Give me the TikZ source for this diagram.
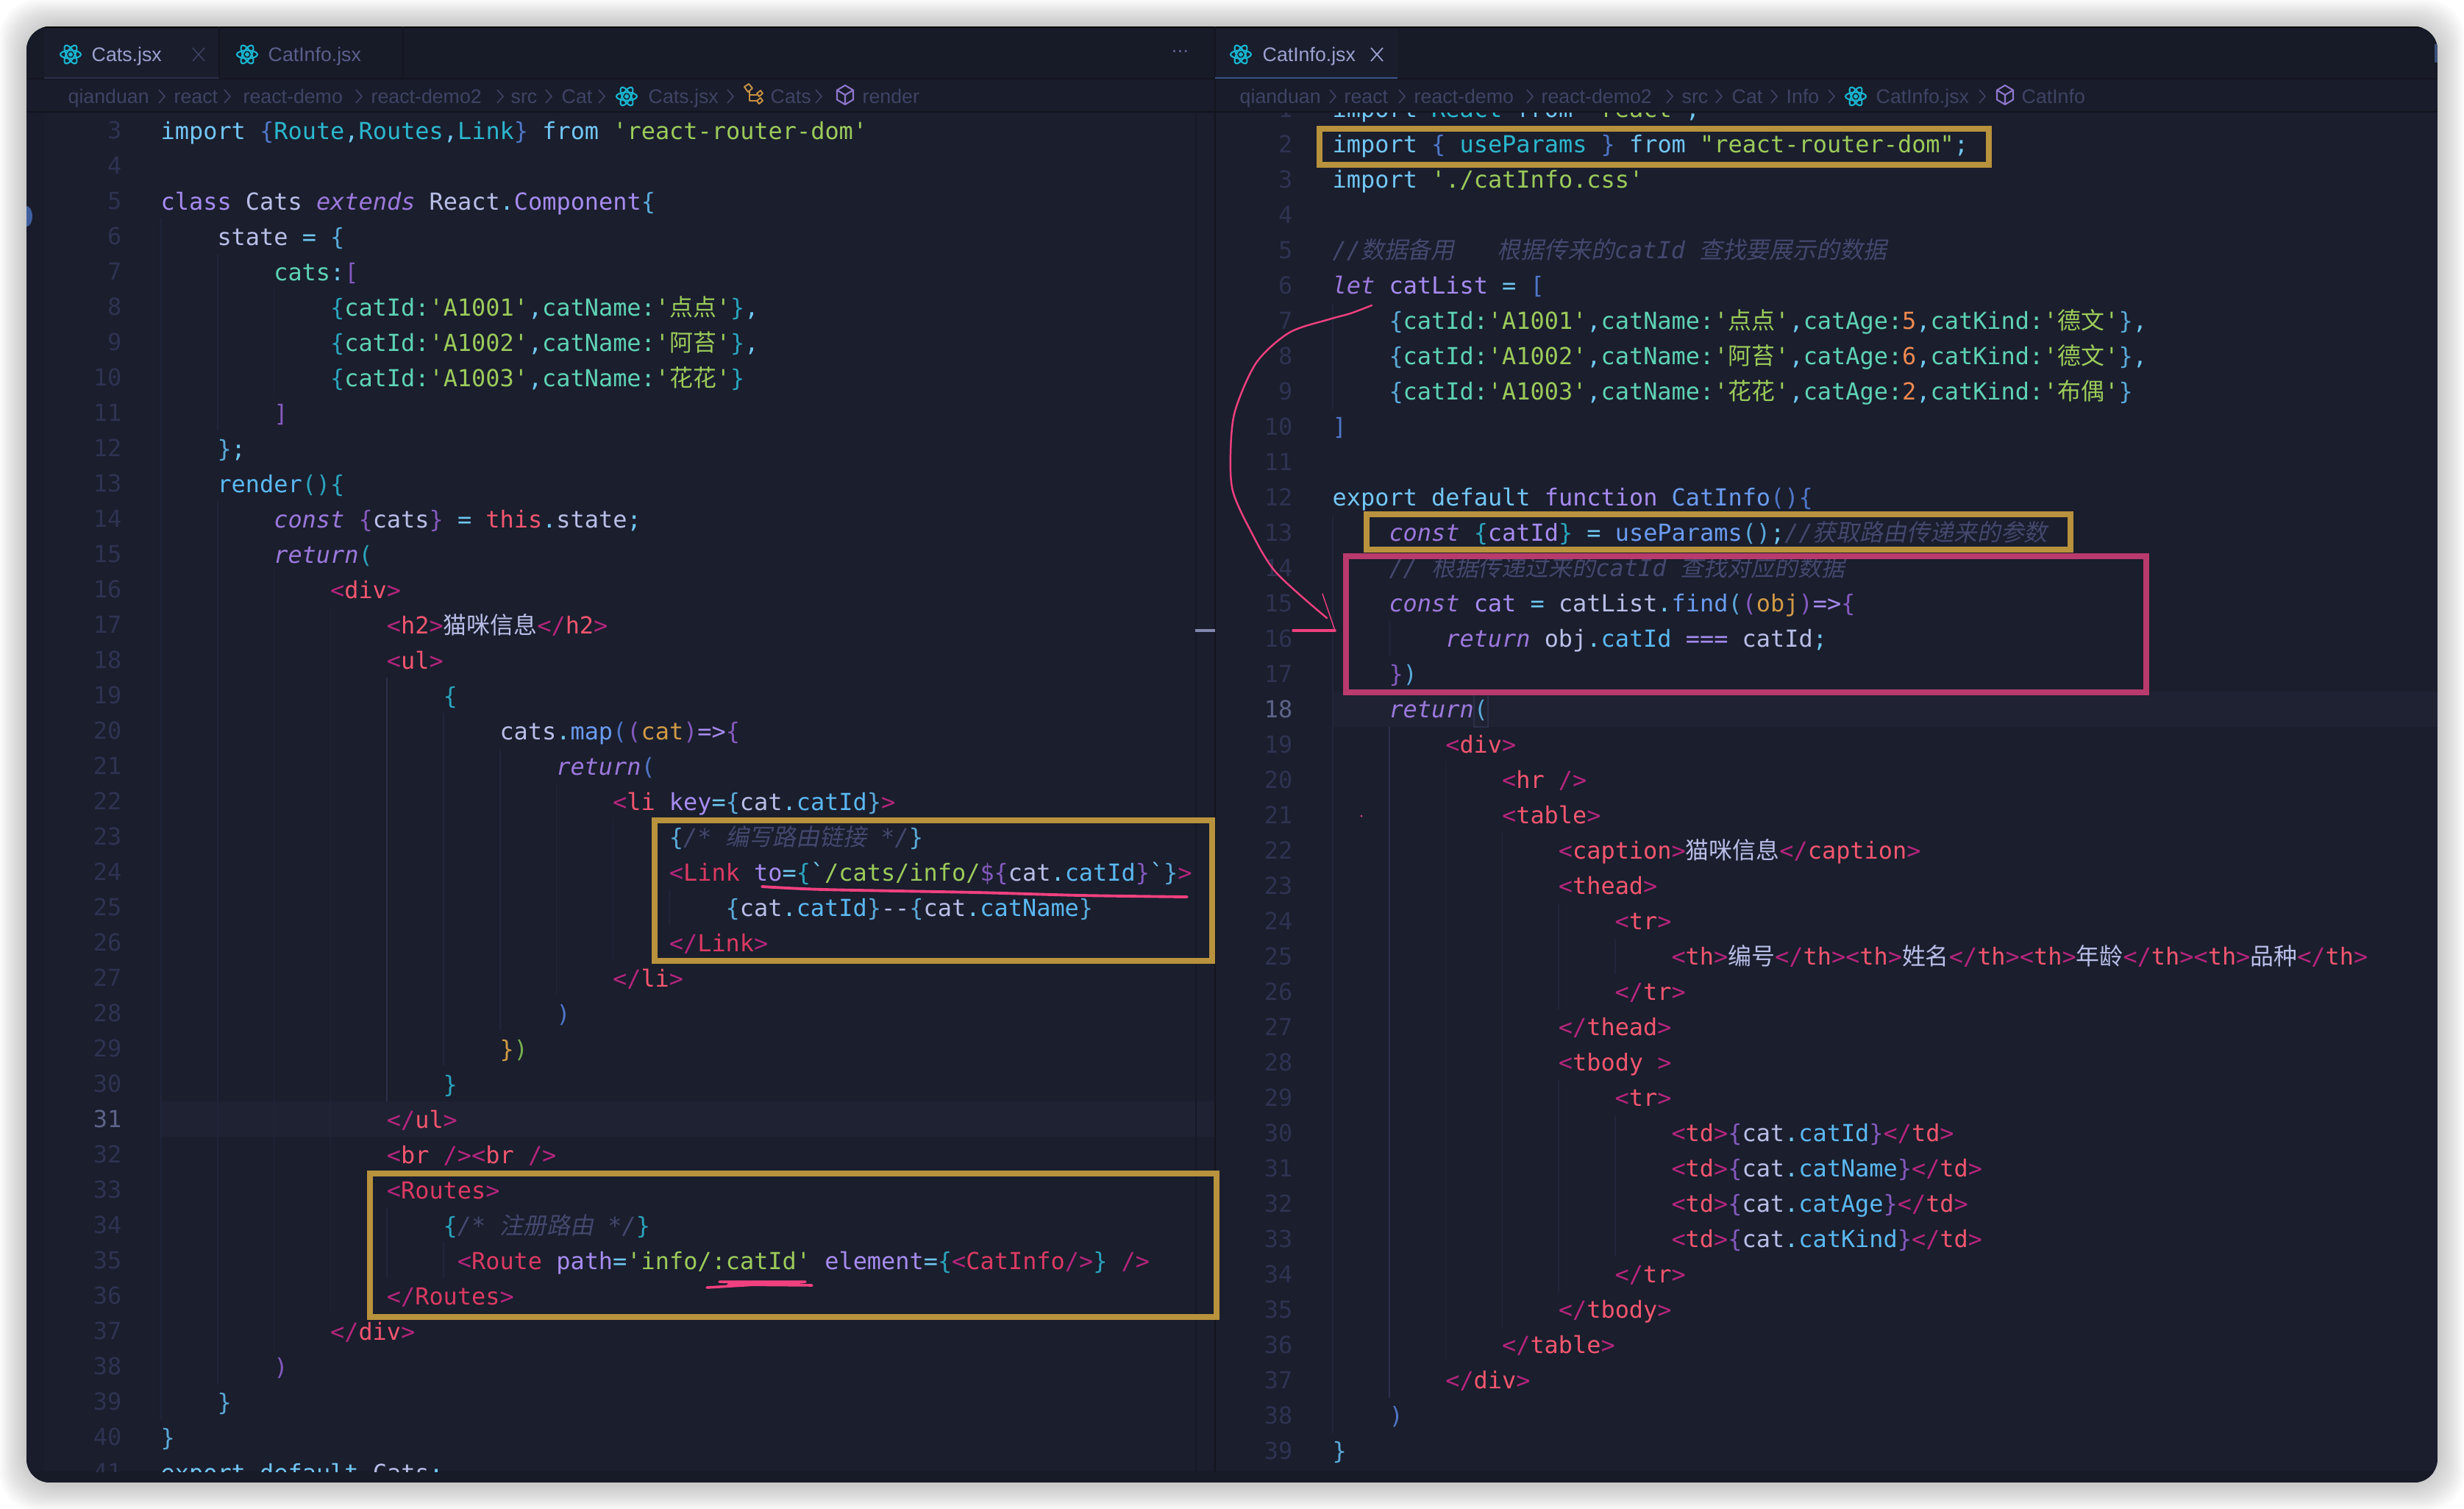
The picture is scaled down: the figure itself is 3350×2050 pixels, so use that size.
\documentclass[tikz,border=0pt]{standalone}
\usepackage{xcolor}
\usepackage{fontspec}
\usepackage{tikz}
\usetikzlibrary{calc}
\newfontfamily\codefont{DejaVu Sans Mono}
\newfontfamily\zhfont{Noto Sans CJK SC}
\newfontfamily\zhslant[FakeSlant=0.2]{Noto Sans CJK SC}
\newfontfamily\uifont{Liberation Sans}

\definecolor{cBg}{HTML}{1A1E2D}
\definecolor{cBar}{HTML}{171A27}
\definecolor{cCrumbBg}{HTML}{191C2A}
\definecolor{cCurLine}{HTML}{1F2233}
\definecolor{cEdge}{HTML}{13151F}
\definecolor{cGuide}{HTML}{21253A}
\definecolor{cGuideOn}{HTML}{2C3049}
\definecolor{cNum}{HTML}{2F3352}
\definecolor{cNumOn}{HTML}{5D6388}
\definecolor{cCrumb}{HTML}{3F4466}
\definecolor{cTabOn}{HTML}{9CA1CF}
\definecolor{cTabOff}{HTML}{5A5F8C}
\definecolor{cReact}{HTML}{19B5D0}
\definecolor{cGold}{HTML}{B8923C}
\definecolor{cRose}{HTML}{B93A6C}
\definecolor{cInk}{HTML}{F0407F}
\definecolor{cTxt}{HTML}{B9BEE8}
\definecolor{cBlue}{HTML}{72C6F5}
\definecolor{cPurp}{HTML}{A78BF0}
\definecolor{cItal}{HTML}{9C78DC}
\definecolor{cStr}{HTML}{9CCB5A}
\definecolor{cProp}{HTML}{5ED3B5}
\definecolor{cTeal}{HTML}{2BB7CE}
\definecolor{cFld}{HTML}{5BB8F2}
\definecolor{cFun}{HTML}{6A9BF0}
\definecolor{cTag}{HTML}{F4566F}
\definecolor{cAng}{HTML}{B4257C}
\definecolor{cCmp}{HTML}{DB3A62}
\definecolor{cCmt}{HTML}{44486E}
\definecolor{cNo}{HTML}{F0894F}
\definecolor{cPnc}{HTML}{6FC8F0}
\definecolor{cBrB}{HTML}{4F76C7}
\definecolor{cBrT}{HTML}{2AA3BC}
\definecolor{cBrP}{HTML}{8459BD}
\definecolor{cBrO}{HTML}{D19A45}
\definecolor{cBrG}{HTML}{78B050}
\definecolor{cBrS}{HTML}{5AA9D8}

% token colours
\newcommand{\kwb}[1]{\textcolor{cBlue}{#1}}
\newcommand{\kwp}[1]{\textcolor{cPurp}{#1}}
\newcommand{\kwi}[1]{\textcolor{cItal}{\itshape #1}}
\newcommand{\strg}[1]{\textcolor{cStr}{#1}}
\newcommand{\prp}[1]{\textcolor{cProp}{#1}}
\newcommand{\tl}[1]{\textcolor{cTeal}{#1}}
\newcommand{\fld}[1]{\textcolor{cFld}{#1}}
\newcommand{\fnc}[1]{\textcolor{cFun}{#1}}
\newcommand{\numb}[1]{\textcolor{cNo}{#1}}
\newcommand{\pnc}[1]{\textcolor{cPnc}{#1}}
\newcommand{\brb}[1]{\textcolor{cBrB}{#1}}
\newcommand{\brt}[1]{\textcolor{cBrT}{#1}}
\newcommand{\brp}[1]{\textcolor{cBrP}{#1}}
\newcommand{\bro}[1]{\textcolor{cBrO}{#1}}
\newcommand{\brg}[1]{\textcolor{cBrG}{#1}}
\newcommand{\brs}[1]{\textcolor{cBrS}{#1}}
\newcommand{\zh}[1]{{\zhfont\fontsize{9.073}{11}\selectfont #1}}
\newcommand{\cmnt}[1]{\textcolor{cCmt}{\itshape #1}}
\newcommand{\zhc}[1]{\textcolor{cCmt}{\zhslant\fontsize{9.073}{11}\selectfont #1}}
\newcommand{\tgo}[1]{\textcolor{cAng}{<}\textcolor{cTag}{#1}\textcolor{cAng}{>}}
\newcommand{\tgc}[1]{\textcolor{cAng}{</}\textcolor{cTag}{#1}\textcolor{cAng}{>}}
\newcommand{\cpo}[1]{\textcolor{cAng}{<}\textcolor{cCmp}{#1}}
\newcommand{\cpc}[1]{\textcolor{cAng}{</}\textcolor{cCmp}{#1}\textcolor{cAng}{>}}
\newcommand{\ag}[1]{\textcolor{cAng}{#1}}
\newcommand{\tn}[1]{\textcolor{cTag}{#1}}
\newcommand{\catrow}[4]{\brs{\{}\prp{catId:}\strg{'#1'}\pnc{,}\prp{catName:}\strg{'\zh{#2}'}\pnc{,}\prp{catAge:}\numb{#3}\pnc{,}\prp{catKind:}\strg{'\zh{#4}'}\brs{\}}\pnc{,}}
\newcommand{\catshort}[2]{\brt{\{}\prp{catId:}\strg{'#1'}\pnc{,}\prp{catName:}\strg{'\zh{#2}'}\brt{\}}\pnc{,}}
\newcommand{\tdrow}[1]{\tgo{td}\brp{\{}cat\pnc{.}\fld{#1}\brp{\}}\tgc{td}}
\newcommand{\thcell}[1]{\tgo{th}\zh{#1}\tgc{th}}

% one line of code: row, column, text
\newcommand{\lineL}[3]{\node[codeline] (codeL#1) at ({218+19.2*#2},{189+48*(#1-3)}) {#3};}
\newcommand{\lineR}[3]{\node[codeline] (codeR#1) at ({1811+19.2*#2},{207+48*(#1-2)}) {#3};}
\newcommand{\guideL}[4][cGuide]{\draw[guide,#1] ({219+19.2*#2},{153+48*(#3-3)}) -- ({219+19.2*#2},{201+48*(#4-3)});}
\newcommand{\guideR}[4][cGuide]{\draw[guide,#1] ({1812+19.2*#2},{172+48*(#3-2)}) -- ({1812+19.2*#2},{220+48*(#4-2)});}
\newcommand{\chev}[1]{\draw[chevron] ($(#1,131)+(-4,-9)$) -- ++(8,9) -- ++(-8,9);}

\tikzset{%
  codeline/.style = {anchor=base west, inner sep=0pt, text=cTxt, font=\codefont\fontsize{9.073}{11}\selectfont},
  lineno/.style = {anchor=base east, inner sep=0pt, text=cNum, font=\codefont\fontsize{9.073}{11}\selectfont},
  tabtext/.style = {anchor=base west, yshift=-0.09cm, inner sep=0pt, font=\uifont\fontsize{7.6}{9}\selectfont},
  crumb/.style = {tabtext, text=cCrumb},
  guide/.style = {line width=0.5pt},
  chevron/.style = {draw=cCrumb, line width=0.45pt},
  goldbox/.style = {draw=cGold, line width=2.2pt, minimum width=0pt},
  rosebox/.style = {draw=cRose, line width=2.2pt},
  inkline/.style = {draw=cInk, line cap=round, line join=round},
  reacticon/.pic = {
    \foreach \a in {0,60,120}
      \draw[cReact, line width=0.6pt, rotate=\a] (0,0) ellipse [x radius=14, y radius=5.5];
    \fill[cReact] (0,0) circle [radius=3];
  },
  cubeicon/.pic = {
    \draw[draw=cPurp!85!black, line width=0.6pt, line join=round] (0,-13) -- (11,-6.5) -- (11,6.5) -- (0,13) -- (-11,6.5) -- (-11,-6.5) -- cycle (-11,-6.5) -- (0,0) -- (11,-6.5) (0,0) -- (0,13);
  }
}

\begin{document}
\begin{tikzpicture}[x=0.01cm, y=-0.01cm]
  \useasboundingbox (0,0) rectangle (3350,2050);

  % Shadow and window
  \foreach \s in {3,6,...,36}
    \fill[black, opacity=0.018, rounded corners=0.5cm] ({36-\s},{36-\s}) rectangle ({3314+\s},{2014+\s+3});

  \begin{scope}
    \clip[rounded corners=0.32cm] (36,36) rectangle (3314,2015);
    \fill[cBg] (36,36) rectangle (3314,2015);
    \fill[cBar] (36,36) rectangle (3314,107);
    \fill[cCrumbBg] (36,108) rectangle (3314,152);
    \fill[cCrumbBg] (36,152) rectangle (60,2015);
    \fill[cBg!80!cBar] (60,36) rectangle (298,107);
    \fill[cBg!80!cBar] (1652,36) rectangle (1900,107);
    \fill[cBar] (36,2000) rectangle (3314,2015);
    \fill[cCurLine] (219,1497) rectangle (1652,1545);
    \fill[cCurLine] (1812,940) rectangle (3314,988);
    \draw[black, line width=0.6pt] (36,37) -- (3314,37);
    \draw[cEdge, line width=0.4pt] (36,107) -- (3314,107);
    \draw[cEdge, line width=0.4pt] (36,152) -- (3314,152);
    \draw[cEdge, line width=0.4pt] (298,36) -- (298,107);
    \draw[cEdge, line width=0.4pt] (548,36) -- (548,107);
    \draw[cEdge, line width=0.4pt] (1652,36) -- (1652,2000);
    \draw[cEdge!60!cBg, line width=0.4pt] (1626,152) -- (1626,2000);
    \fill[cBrB!80!black] (36,294) ellipse [x radius=8, y radius=14];
    \fill[cFun!40!cBg] (3310,60) rectangle (3314,85);
    \fill[cTabOn!80!cBg] (1625,855) rectangle (1652,859);
    \fill[cGuideOn] (60,105) rectangle (298,107);
    \fill[cBrB!60!cBg] (1652,105) rectangle (1900,107);
  \end{scope}

  % Tabs
  \pic at (96,74) {reacticon};
  \node[tabtext, text=cTabOn] (tabCats) at (124,74) {Cats.jsx};
  \draw[cCrumb, line width=0.4pt] (262,65) -- (278,83) (278,65) -- (262,83);
  \pic at (336,74) {reacticon};
  \node[tabtext, text=cTabOff] (tabInfo) at (364,74) {CatInfo.jsx};
  \node[tabtext, text=cTabOff, font=\uifont\fontsize{8}{9}\selectfont] (tabMore) at (1592,62) {...};
  \pic at (1687,74) {reacticon};
  \node[tabtext, text=cTabOn] (tabInfoR) at (1716,74) {CatInfo.jsx};
  \draw[cTabOn, line width=0.5pt] (1864,65) -- (1880,83) (1880,65) -- (1864,83);

  % Breadcrumbs
  \node[crumb] (bcL1) at (92,131) {qianduan};
  \chev{220}
  \node[crumb] (bcL2) at (236,131) {react};
  \chev{309}
  \node[crumb] (bcL3) at (330,131) {react-demo};
  \chev{488}
  \node[crumb] (bcL4) at (504,131) {react-demo2};
  \chev{680}
  \node[crumb] (bcL5) at (694,131) {src};
  \chev{746}
  \node[crumb] (bcL6) at (763,131) {Cat};
  \chev{818}
  \pic at (852,131) {reacticon};
  \node[crumb] (bcL7) at (881,131) {Cats.jsx};
  \chev{993}
  \draw[cBrO!95!black, line width=0.55pt, line join=round] (1012,118) -- (1018,114) -- (1023,120) -- (1017,125) -- cycle (1019,124) -- (1019,137) -- (1029,137) (1019,129) -- (1029,129) (1029,127) -- (1034,123) -- (1037,127) -- (1032,131) -- cycle (1029,137) -- (1034,133) -- (1037,137) -- (1032,141) -- cycle;
  \node[crumb] (bcL8) at (1047,131) {Cats};
  \chev{1113}
  \pic at (1149,129) {cubeicon};
  \node[crumb] (bcL9) at (1172,131) {render};

  \node[crumb] (bcR1) at (1685,131) {qianduan};
  \chev{1812}
  \node[crumb] (bcR2) at (1827,131) {react};
  \chev{1906}
  \node[crumb] (bcR3) at (1922,131) {react-demo};
  \chev{2080}
  \node[crumb] (bcR4) at (2095,131) {react-demo2};
  \chev{2270}
  \node[crumb] (bcR5) at (2286,131) {src};
  \chev{2337}
  \node[crumb] (bcR6) at (2354,131) {Cat};
  \chev{2412}
  \node[crumb] (bcR7) at (2428,131) {Info};
  \chev{2490}
  \pic at (2523,131) {reacticon};
  \node[crumb] (bcR8) at (2550,131) {CatInfo.jsx};
  \chev{2695}
  \pic at (2726,129) {cubeicon};
  \node[crumb] (bcR9) at (2748,131) {CatInfo};

  % Left pane
  \begin{scope}
    \clip (36,153) rectangle (1652,2000);
    \guideL{0}{6}{39}
    \guideL{4}{7}{11}
    \guideL{4}{14}{38}
    \guideL{8}{8}{10}
    \guideL{8}{16}{37}
    \guideL{12}{17}{36}
    \guideL[cGuideOn]{16}{19}{30}
    \guideL{16}{34}{35}
    \guideL{20}{20}{29}
    \guideL{20}{35}{35}
    \guideL{24}{21}{28}
    \guideL{28}{22}{27}
    \guideL{32}{23}{26}
    \guideL{36}{25}{25}
    \foreach \n in {3,...,30,32,33,...,41}
      \node[lineno] (numL\n) at (166,{188+48*(\n-3)}) {\n};
    \node[lineno, text=cNumOn] (numL31) at (166,{188+48*28}) {31};
    \lineL{3}{0}{\kwb{import} \brb{\{}\tl{Route}\pnc{,}\tl{Routes}\pnc{,}\tl{Link}\brb{\}} \kwb{from} \strg{'react-router-dom'}}
    \lineL{5}{0}{\kwp{class} Cats \kwi{extends} React\pnc{.}\kwp{Component}\brs{\{}}
    \lineL{6}{4}{state \pnc{=} \brs{\{}}
    \lineL{7}{8}{\prp{cats}\pnc{:}\brp{[}}
    \lineL{8}{12}{\catshort{A1001}{点点}}
    \lineL{9}{12}{\catshort{A1002}{阿苔}}
    \lineL{10}{12}{\brt{\{}\prp{catId:}\strg{'A1003'}\pnc{,}\prp{catName:}\strg{'\zh{花花}'}\brt{\}}}
    \lineL{11}{8}{\brp{]}}
    \lineL{12}{4}{\brs{\}}\pnc{;}}
    \lineL{13}{4}{\fld{render}\brt{()}\brt{\{}}
    \lineL{14}{8}{\kwi{const} \brp{\{}cats\brp{\}} \pnc{=} \tn{this}\pnc{.}state\pnc{;}}
    \lineL{15}{8}{\kwi{return}\brt{(}}
    \lineL{16}{12}{\tgo{div}}
    \lineL{17}{16}{\tgo{h2}\zh{猫咪信息}\tgc{h2}}
    \lineL{18}{16}{\tgo{ul}}
    \lineL{19}{20}{\brt{\{}}
    \lineL{20}{24}{cats\pnc{.}\fnc{map}\brb{(}\brp{(}\textcolor{cBrO}{cat}\brp{)}\kwp{=>}\brp{\{}}
    \lineL{21}{28}{\kwi{return}\brb{(}}
    \lineL{22}{32}{\ag{<}\tn{li} \kwp{key}\pnc{=}\brs{\{}cat\pnc{.}\fld{catId}\brs{\}}\ag{>}}
    \lineL{23}{36}{\brs{\{}\cmnt{/*} \zhc{编写路由链接} \cmnt{*/}\brs{\}}}
    \lineL{24}{36}{\cpo{Link} \kwp{to}\pnc{=}\brt{\{}\pnc{`}\strg{/cats/info/}\brp{\$\{}cat\pnc{.}\fld{catId}\brp{\}}\pnc{`}\brs{\}}\ag{>}}
    \lineL{25}{40}{\brs{\{}cat\pnc{.}\fld{catId}\brs{\}}\textcolor{cTxt}{--}\brs{\{}cat\pnc{.}\fld{catName}\brs{\}}}
    \lineL{26}{36}{\cpc{Link}}
    \lineL{27}{32}{\tgc{li}}
    \lineL{28}{28}{\brb{)}}
    \lineL{29}{24}{\bro{\}}\brg{)}}
    \lineL{30}{20}{\brt{\}}}
    \lineL{31}{16}{\tgc{ul}}
    \lineL{32}{16}{\ag{<}\tn{br} \ag{/>}\ag{<}\tn{br} \ag{/>}}
    \lineL{33}{16}{\cpo{Routes}\ag{>}}
    \lineL{34}{20}{\brt{\{}\cmnt{/*} \zhc{注册路由} \cmnt{*/}\brt{\}}}
    \lineL{35}{21}{\cpo{Route} \kwp{path}\pnc{=}\strg{'info/:catId'} \kwp{element}\pnc{=}\brt{\{}\cpo{CatInfo}\ag{/>}\brt{\}} \ag{/>}}
    \lineL{36}{16}{\cpc{Routes}}
    \lineL{37}{12}{\tgc{div}}
    \lineL{38}{8}{\brp{)}}
    \lineL{39}{4}{\brs{\}}}
    \lineL{40}{0}{\brs{\}}}
    \lineL{41}{0}{\kwb{export} \kwb{default} Cats\pnc{;}}
  \end{scope}

  % Right pane
  \begin{scope}
    \clip (1652,153) rectangle (3314,2000);
    \guideR{0}{7}{9}
    \guideR{0}{13}{38}
    \guideR{4}{16}{16}
    \guideR[cGuideOn]{4}{19}{37}
    \guideR{8}{20}{36}
    \guideR{12}{22}{35}
    \guideR{16}{24}{26}
    \guideR{16}{29}{34}
    \guideR{20}{25}{25}
    \guideR{20}{30}{33}
    \foreach \n in {1,...,17,19,20,...,39}
      \node[lineno] (numR\n) at (1758,{207+48*(\n-2)}) {\n};
    \node[lineno, text=cNumOn] (numR18) at (1758,{207+48*16}) {18};
    \draw[cGuideOn, line width=0.5pt] (2004,940) rectangle (2023,988);
    \lineR{1}{0}{\kwb{import} \tl{React} \kwb{from} \strg{'react'}\pnc{;}}
    \lineR{2}{0}{\kwb{import} \brb{\{} \tl{useParams} \brb{\}} \kwb{from} \strg{"react-router-dom"}\pnc{;}}
    \lineR{3}{0}{\kwb{import} \strg{'./catInfo.css'}}
    \lineR{5}{0}{\cmnt{//}\zhc{数据备用}\cmnt{\ \ \ }\zhc{根据传来的}\cmnt{catId} \zhc{查找要展示的数据}}
    \lineR{6}{0}{\kwi{let} \kwp{catList} \pnc{=} \brb{[}}
    \lineR{7}{4}{\catrow{A1001}{点点}{5}{德文}}
    \lineR{8}{4}{\catrow{A1002}{阿苔}{6}{德文}}
    \lineR{9}{4}{\brs{\{}\prp{catId:}\strg{'A1003'}\pnc{,}\prp{catName:}\strg{'\zh{花花}'}\pnc{,}\prp{catAge:}\numb{2}\pnc{,}\prp{catKind:}\strg{'\zh{布偶}'}\brs{\}}}
    \lineR{10}{0}{\brb{]}}
    \lineR{12}{0}{\kwb{export} \kwb{default} \kwp{function} \fnc{CatInfo}\brb{()}\brb{\{}}
    \lineR{13}{4}{\kwi{const} \brt{\{}\kwp{catId}\brt{\}} \pnc{=} \fnc{useParams}\brs{()}\pnc{;}\cmnt{//}\zhc{获取路由传递来的参数}}
    \lineR{14}{4}{\cmnt{// }\zhc{根据传递过来的}\cmnt{catId} \zhc{查找对应的数据}}
    \lineR{15}{4}{\kwi{const} \kwp{cat} \pnc{=} catList\pnc{.}\fnc{find}\brs{(}\brp{(}\textcolor{cBrO}{obj}\brp{)}\kwp{=>}\brp{\{}}
    \lineR{16}{8}{\kwi{return} obj\pnc{.}\fld{catId} \kwp{===} catId\pnc{;}}
    \lineR{17}{4}{\brp{\}}\brs{)}}
    \lineR{18}{4}{\kwi{return}\brs{(}}
    \lineR{19}{8}{\tgo{div}}
    \lineR{20}{12}{\ag{<}\tn{hr} \ag{/>}}
    \lineR{21}{12}{\tgo{table}}
    \lineR{22}{16}{\tgo{caption}\zh{猫咪信息}\tgc{caption}}
    \lineR{23}{16}{\tgo{thead}}
    \lineR{24}{20}{\tgo{tr}}
    \lineR{25}{24}{\thcell{编号}\thcell{姓名}\thcell{年龄}\thcell{品种}}
    \lineR{26}{20}{\tgc{tr}}
    \lineR{27}{16}{\tgc{thead}}
    \lineR{28}{16}{\ag{<}\tn{tbody} \ag{>}}
    \lineR{29}{20}{\tgo{tr}}
    \lineR{30}{24}{\tdrow{catId}}
    \lineR{31}{24}{\tdrow{catName}}
    \lineR{32}{24}{\tdrow{catAge}}
    \lineR{33}{24}{\tdrow{catKind}}
    \lineR{34}{20}{\tgc{tr}}
    \lineR{35}{16}{\tgc{tbody}}
    \lineR{36}{12}{\tgc{table}}
    \lineR{37}{8}{\tgc{div}}
    \lineR{38}{4}{\brb{)}}
    \lineR{39}{0}{\brs{\}}}
  \end{scope}

  % Highlight boxes
  \draw[goldbox] (1794,175) rectangle (2704,224);
  \draw[goldbox] (1858,699) rectangle (2815,747);
  \draw[rosebox] (1830,756) rectangle (2918,941);
  \draw[goldbox] (890,1115) rectangle (1648,1306);
  \draw[goldbox] (503,1595) rectangle (1654,1790);

  % Pen marks
  \coordinate (markStart) at (1865,415);
  \coordinate (markTip) at (1815,857);
  \coordinate (markTail) at (1758,857);
  \coordinate (markBarb) at (1798,807);
  \draw[inkline, line width=0.7pt] plot [smooth] coordinates {(markStart) (1836,426) (1807,434) (1753,452) (1708,493) (1679,559) (1673,617) (1676,667) (1698,717) (1734,777) (1804,840)};
  \draw[inkline, line width=0.4pt] (markBarb) -- (markTip);
  \draw[inkline, line width=1pt] (markTip) -- (markTail);
  \draw[inkline, line width=1.1pt] plot [smooth] coordinates {(1036,1205) (1120,1209) (1327,1213) (1470,1217) (1614,1219)};
  \draw[inkline, line width=1pt] (961,1750) -- (1095,1742) -- (978,1742) -- (1104,1747) -- (990,1746);
  \fill[cInk] (1851,1109) circle [radius=1.5];
\end{tikzpicture}
\end{document}
